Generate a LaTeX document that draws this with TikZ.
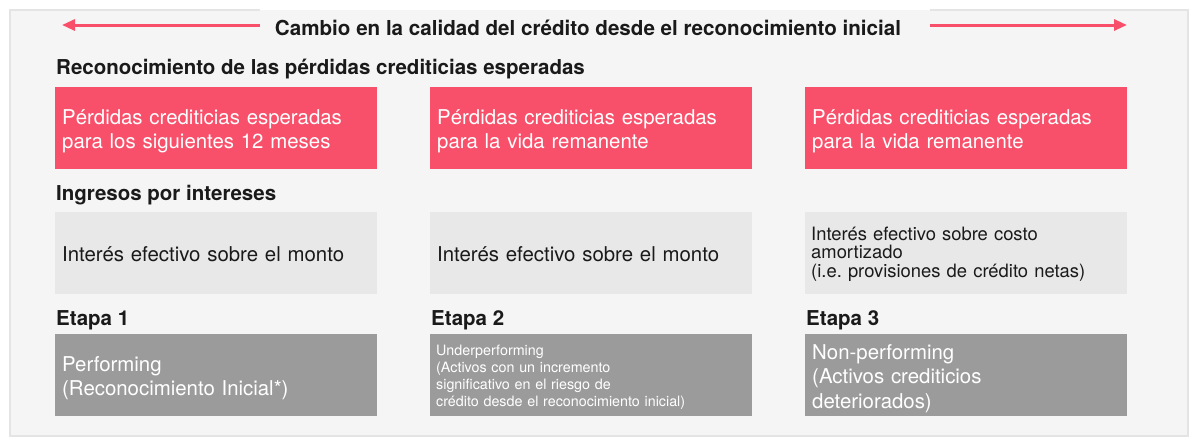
\documentclass[tikz,border=0pt]{standalone}
\usepackage{fontspec}
\setmainfont{TeX Gyre Heros}
\usetikzlibrary{arrows.meta}
\definecolor{panelfill}{HTML}{F5F5F5}
\definecolor{panelline}{HTML}{E4E4E4}
\definecolor{pinkred}{HTML}{F8506A}
\definecolor{lightbox}{HTML}{E8E8E8}
\definecolor{darkbox}{HTML}{9B9B9B}
\definecolor{ink}{HTML}{1A1A1A}
\frenchspacing
\begin{document}
\begin{tikzpicture}[x=1pt,y=-1pt,
  colbox/.style={anchor=north west, minimum width=322pt, minimum height=82pt, inner sep=0pt},
  boxtext/.style={anchor=west, text width=308pt, inner sep=0pt, align=left},
  pinktext/.style={boxtext, text=white, font=\fontsize{20.4}{24.5}\selectfont},
  greytext/.style={boxtext, text=ink, font=\fontsize{20.4}{24.5}\selectfont},
  greysmall/.style={boxtext, text=ink, font=\fontsize{18.4}{18.6}\selectfont},
  darkbig/.style={boxtext, text=white, font=\fontsize{20.4}{24.5}\selectfont},
  darksmall/.style={boxtext, text=white, font=\fontsize{14.3}{17}\selectfont},
  heading/.style={anchor=base west, inner sep=0pt, text=ink, font=\bfseries\fontsize{20.5}{24}\selectfont},
  bigarrow/.style={draw=pinkred, line width=3pt, -{Triangle[length=13pt,width=11pt]}}
]
\useasboundingbox (0,0) rectangle (1200,445);
\fill[white] (0,0) rectangle (1200,445);
% panel
\fill[panelfill] (10,10) rectangle (1188,436);
\draw[panelline, line width=2pt] (260,10) -- (10,10) -- (10,436) -- (1188,436) -- (1188,10) -- (930,10);

% title and arrows
\node[anchor=base, inner sep=0pt, text=ink, font=\bfseries\fontsize{20.6}{24}\selectfont] (title) at (588,35)
  {Cambio en la calidad del crédito desde el reconocimiento inicial};
\coordinate (alstart) at (260,25);
\coordinate (alend) at (62,25);
\coordinate (arstart) at (930,25);
\coordinate (arend) at (1127,25);
\draw[bigarrow] (alstart) -- (alend);
\draw[bigarrow] (arstart) -- (arend);

% row 1
\node[heading] (h1) at (56,74) {Reconocimiento de las pérdidas crediticias esperadas};
\node[colbox, fill=pinkred] (p1) at (55,87) {};
\node[colbox, fill=pinkred] (p2) at (430,87) {};
\node[colbox, fill=pinkred] (p3) at (805,87) {};
\node[pinktext] (p1t) at ([xshift=7pt,yshift=-3pt]p1.west) {Pérdidas crediticias esperadas\\para los siguientes 12 meses};
\node[pinktext] (p2t) at ([xshift=7pt,yshift=-3pt]p2.west) {Pérdidas crediticias esperadas\\para la vida remanente};
\node[pinktext] (p3t) at ([xshift=7pt,yshift=-3pt]p3.west) {Pérdidas crediticias esperadas\\para la vida remanente};

% row 2
\node[heading] (h2) at (56,200) {Ingresos por intereses};
\node[colbox, fill=lightbox] (g1) at (55,212) {};
\node[colbox, fill=lightbox] (g2) at (430,212) {};
\node[colbox, fill=lightbox] (g3) at (805,212) {};
\node[greytext] (g1t) at ([xshift=7pt,yshift=-1pt]g1.west) {Interés efectivo sobre el monto};
\node[greytext] (g2t) at ([xshift=7pt,yshift=-1pt]g2.west) {Interés efectivo sobre el monto};
\node[greysmall] (g3t) at ([xshift=6pt,yshift=-1pt]g3.west) {Interés efectivo sobre costo\\amortizado\\(i.e. provisiones de crédito netas)};

% row 3
\node[heading] (e1) at (56,325) {Etapa 1};
\node[heading] (e2) at (431,325) {Etapa 2};
\node[heading] (e3) at (806,325) {Etapa 3};
\node[colbox, fill=darkbox] (d1) at (55,334) {};
\node[colbox, fill=darkbox] (d2) at (430,334) {};
\node[colbox, fill=darkbox] (d3) at (805,334) {};
\node[darkbig] (d1t) at ([xshift=7pt,yshift=-3pt]d1.west) {Performing\\(Reconocimiento Inicial*)};
\node[darksmall] (d2t) at ([xshift=6pt,yshift=-2pt]d2.west) {Underperforming\\(Activos con un incremento\\significativo en el riesgo de\\crédito desde el reconocimiento inicial)};
\node[darkbig] (d3t) at ([xshift=7pt,yshift=-3pt]d3.west) {Non-performing\\(Activos crediticios\\deteriorados)};
\end{tikzpicture}
\end{document}
